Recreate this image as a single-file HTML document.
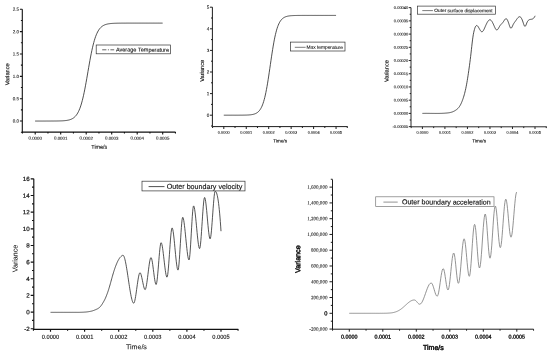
<!DOCTYPE html>
<html><head><meta charset="utf-8"><title>Variance charts</title>
<style>html,body{margin:0;padding:0;background:#fff}svg{display:block}</style>
</head><body>
<svg width="550" height="355" viewBox="0 0 550 355" font-family="'Liberation Sans', Arial, sans-serif">
<rect width="550" height="355" fill="#fff"/>
<g stroke="#111" stroke-width="1.1" fill="none">
<path d="M22.30 9.25V132.10H175.50"/>
<path d="M35.20 132.10v2.4M60.70 132.10v2.4M86.20 132.10v2.4M111.70 132.10v2.4M137.20 132.10v2.4M162.70 132.10v2.4M22.45 132.10v1.4M47.95 132.10v1.4M73.45 132.10v1.4M98.95 132.10v1.4M124.45 132.10v1.4M149.95 132.10v1.4M175.45 132.10v1.4M22.30 121.05h-2.4M22.30 98.69h-2.4M22.30 76.33h-2.4M22.30 53.97h-2.4M22.30 31.61h-2.4M22.30 9.25h-2.4M22.30 132.23h-1.4M22.30 109.87h-1.4M22.30 87.51h-1.4M22.30 65.15h-1.4M22.30 42.79h-1.4M22.30 20.43h-1.4"/>
</g>
<g font-size="4.4" text-anchor="middle" fill="#111" font-weight="normal" stroke="#111" stroke-width="0.08">
<text transform="translate(35.20 139.64) rotate(0.2)">0.0000</text>
<text transform="translate(60.70 139.64) rotate(0.2)">0.0001</text>
<text transform="translate(86.20 139.64) rotate(0.2)">0.0002</text>
<text transform="translate(111.70 139.64) rotate(0.2)">0.0003</text>
<text transform="translate(137.20 139.64) rotate(0.2)">0.0004</text>
<text transform="translate(162.70 139.64) rotate(0.2)">0.0005</text>
</g>
<g font-size="4.5" text-anchor="end" fill="#111" stroke="#111" stroke-width="0.08">
<text transform="translate(19.00 122.62) rotate(0.2)">0.0</text>
<text transform="translate(19.00 100.27) rotate(0.2)">0.5</text>
<text transform="translate(19.00 77.91) rotate(0.2)">1.0</text>
<text transform="translate(19.00 55.55) rotate(0.2)">1.5</text>
<text transform="translate(19.00 33.19) rotate(0.2)">2.0</text>
<text transform="translate(19.00 10.82) rotate(0.2)">2.5</text>
</g>
<text transform="translate(99.30 148.74) rotate(0.2)" font-size="5.4" text-anchor="middle" fill="#111" font-weight="normal" stroke="#111" stroke-width="0.12">Time/s</text>
<text transform="translate(9.21 74.30) rotate(-89.8)" font-size="5.7" text-anchor="middle" fill="#111" font-weight="normal" stroke="#111" stroke-width="0.12">Variance</text>
<path d="M35.10 121.05 L35.74 121.05 L36.38 121.05 L37.01 121.05 L37.65 121.05 L38.29 121.05 L38.93 121.05 L39.56 121.05 L40.20 121.05 L40.84 121.05 L41.48 121.05 L42.11 121.05 L42.75 121.05 L43.39 121.05 L44.02 121.05 L44.66 121.05 L45.30 121.05 L45.94 121.05 L46.58 121.04 L47.21 121.04 L47.85 121.04 L48.49 121.04 L49.12 121.04 L49.76 121.04 L50.40 121.04 L51.04 121.03 L51.67 121.03 L52.31 121.03 L52.95 121.03 L53.59 121.02 L54.23 121.02 L54.86 121.01 L55.50 121.01 L56.14 121.00 L56.78 120.99 L57.41 120.98 L58.05 120.97 L58.69 120.96 L59.33 120.94 L59.96 120.92 L60.60 120.90 L61.24 120.88 L61.88 120.85 L62.51 120.82 L63.15 120.78 L63.79 120.73 L64.42 120.68 L65.06 120.62 L65.70 120.55 L66.34 120.47 L66.97 120.37 L67.61 120.26 L68.25 120.14 L68.89 119.99 L69.53 119.82 L70.16 119.62 L70.80 119.39 L71.44 119.12 L72.08 118.82 L72.71 118.46 L73.35 118.05 L73.99 117.58 L74.62 117.03 L75.26 116.41 L75.90 115.69 L76.54 114.87 L77.17 113.93 L77.81 112.86 L78.45 111.65 L79.09 110.28 L79.72 108.74 L80.36 107.01 L81.00 105.09 L81.64 102.96 L82.28 100.62 L82.91 98.06 L83.55 95.29 L84.19 92.31 L84.83 89.14 L85.46 85.80 L86.10 82.32 L86.74 78.72 L87.38 75.05 L88.01 71.34 L88.65 67.64 L89.29 63.99 L89.92 60.44 L90.56 57.01 L91.20 53.73 L91.84 50.64 L92.47 47.74 L93.11 45.05 L93.75 42.58 L94.39 40.32 L95.03 38.28 L95.66 36.44 L96.30 34.79 L96.94 33.32 L97.58 32.01 L98.21 30.86 L98.85 29.85 L99.49 28.96 L100.12 28.18 L100.76 27.50 L101.40 26.90 L102.04 26.39 L102.68 25.94 L103.31 25.55 L103.95 25.22 L104.59 24.93 L105.22 24.68 L105.86 24.46 L106.50 24.27 L107.14 24.11 L107.78 23.97 L108.41 23.85 L109.05 23.75 L109.69 23.66 L110.33 23.58 L110.96 23.52 L111.60 23.46 L112.24 23.41 L112.88 23.37 L113.51 23.33 L114.15 23.30 L114.79 23.28 L115.43 23.25 L116.06 23.23 L116.70 23.22 L117.34 23.20 L117.97 23.19 L118.61 23.18 L119.25 23.17 L119.89 23.16 L120.53 23.16 L121.16 23.15 L121.80 23.14 L122.44 23.14 L123.08 23.14 L123.71 23.13 L124.35 23.13 L124.99 23.13 L125.62 23.13 L126.26 23.12 L126.90 23.12 L127.54 23.12 L128.18 23.12 L128.81 23.12 L129.45 23.12 L130.09 23.12 L130.72 23.12 L131.36 23.12 L132.00 23.12 L132.64 23.12 L133.28 23.12 L133.91 23.11 L134.55 23.11 L135.19 23.11 L135.83 23.11 L136.46 23.11 L137.10 23.11 L137.74 23.11 L138.38 23.11 L139.01 23.11 L139.65 23.11 L140.29 23.11 L140.93 23.11 L141.56 23.11 L142.20 23.11 L142.84 23.11 L143.47 23.11 L144.11 23.11 L144.75 23.11 L145.39 23.11 L146.03 23.11 L146.66 23.11 L147.30 23.11 L147.94 23.11 L148.58 23.11 L149.21 23.11 L149.85 23.11 L150.49 23.11 L151.12 23.11 L151.76 23.11 L152.40 23.11 L153.04 23.11 L153.68 23.11 L154.31 23.11 L154.95 23.11 L155.59 23.11 L156.22 23.11 L156.86 23.11 L157.50 23.11 L158.14 23.11 L158.78 23.11 L159.41 23.11 L160.05 23.11 L160.69 23.11 L161.33 23.11 L161.96 23.11 L162.60 23.11" fill="none" stroke="#222" stroke-width="0.8" stroke-linejoin="round"/>
<rect x="96.20" y="45.00" width="74.40" height="8.80" fill="#fff" stroke="#333" stroke-width="0.7"/>
<path d="M102.20 49.80H114.20" stroke="#222" stroke-width="0.7" stroke-dasharray="4.2 1.5 1 1.5"/>
<text transform="translate(115.90 51.52) rotate(0.2)" font-size="5.55" fill="#111" stroke="#111" stroke-width="0.1">Average Temperature</text>
<g stroke="#111" stroke-width="0.95" fill="none">
<path d="M212.40 7.20V126.60H347.70"/>
<path d="M223.80 126.60v2.4M246.25 126.60v2.4M268.70 126.60v2.4M291.15 126.60v2.4M313.60 126.60v2.4M336.05 126.60v2.4M212.58 126.60v1.4M235.03 126.60v1.4M257.48 126.60v1.4M279.93 126.60v1.4M302.38 126.60v1.4M324.82 126.60v1.4M347.27 126.60v1.4M212.40 115.20h-2.4M212.40 93.60h-2.4M212.40 72.00h-2.4M212.40 50.40h-2.4M212.40 28.80h-2.4M212.40 7.20h-2.4M212.40 126.00h-1.4M212.40 104.40h-1.4M212.40 82.80h-1.4M212.40 61.20h-1.4M212.40 39.60h-1.4M212.40 18.00h-1.4"/>
</g>
<g font-size="3.9" text-anchor="middle" fill="#111" font-weight="normal" stroke="#111" stroke-width="0.08">
<text transform="translate(223.80 133.77) rotate(0.2)">0.0000</text>
<text transform="translate(246.25 133.77) rotate(0.2)">0.0001</text>
<text transform="translate(268.70 133.77) rotate(0.2)">0.0002</text>
<text transform="translate(291.15 133.77) rotate(0.2)">0.0003</text>
<text transform="translate(313.60 133.77) rotate(0.2)">0.0004</text>
<text transform="translate(336.05 133.77) rotate(0.2)">0.0005</text>
</g>
<g font-size="4.6" text-anchor="end" fill="#111" stroke="#111" stroke-width="0.08">
<text transform="translate(209.30 116.81) rotate(0.2)">0</text>
<text transform="translate(209.30 95.21) rotate(0.2)">1</text>
<text transform="translate(209.30 73.61) rotate(0.2)">2</text>
<text transform="translate(209.30 52.01) rotate(0.2)">3</text>
<text transform="translate(209.30 30.41) rotate(0.2)">4</text>
<text transform="translate(209.30 8.81) rotate(0.2)">5</text>
</g>
<text transform="translate(280.00 142.43) rotate(0.2)" font-size="4.8" text-anchor="middle" fill="#111" font-weight="normal" stroke="#111" stroke-width="0.12">Time/s</text>
<text transform="translate(204.01 70.80) rotate(-89.8)" font-size="5.7" text-anchor="middle" fill="#111" font-weight="normal" stroke="#111" stroke-width="0.12">Variance</text>
<path d="M223.80 115.20 L224.36 115.20 L224.92 115.20 L225.48 115.20 L226.05 115.20 L226.61 115.20 L227.17 115.20 L227.73 115.20 L228.29 115.20 L228.85 115.20 L229.41 115.20 L229.97 115.20 L230.54 115.20 L231.10 115.20 L231.66 115.20 L232.22 115.20 L232.78 115.20 L233.34 115.20 L233.90 115.20 L234.46 115.20 L235.03 115.19 L235.59 115.19 L236.15 115.19 L236.71 115.19 L237.27 115.19 L237.83 115.19 L238.39 115.19 L238.95 115.18 L239.52 115.18 L240.08 115.18 L240.64 115.17 L241.20 115.17 L241.76 115.16 L242.32 115.16 L242.88 115.15 L243.44 115.14 L244.00 115.13 L244.57 115.12 L245.13 115.11 L245.69 115.09 L246.25 115.08 L246.81 115.05 L247.37 115.03 L247.93 115.00 L248.50 114.97 L249.06 114.93 L249.62 114.88 L250.18 114.83 L250.74 114.77 L251.30 114.70 L251.86 114.61 L252.42 114.51 L252.99 114.40 L253.55 114.26 L254.11 114.10 L254.67 113.92 L255.23 113.71 L255.79 113.46 L256.35 113.17 L256.91 112.84 L257.48 112.45 L258.04 112.00 L258.60 111.48 L259.16 110.87 L259.72 110.18 L260.28 109.38 L260.84 108.46 L261.40 107.41 L261.97 106.21 L262.53 104.85 L263.09 103.30 L263.65 101.57 L264.21 99.62 L264.77 97.46 L265.33 95.06 L265.89 92.43 L266.45 89.57 L267.02 86.48 L267.58 83.18 L268.14 79.70 L268.70 76.05 L269.26 72.27 L269.82 68.42 L270.38 64.52 L270.94 60.64 L271.51 56.81 L272.07 53.08 L272.63 49.50 L273.19 46.08 L273.75 42.86 L274.31 39.87 L274.87 37.10 L275.44 34.56 L276.00 32.26 L276.56 30.18 L277.12 28.32 L277.68 26.66 L278.24 25.20 L278.80 23.90 L279.36 22.76 L279.93 21.77 L280.49 20.90 L281.05 20.14 L281.61 19.48 L282.17 18.92 L282.73 18.42 L283.29 18.00 L283.85 17.63 L284.42 17.32 L284.98 17.04 L285.54 16.81 L286.10 16.61 L286.66 16.44 L287.22 16.29 L287.78 16.16 L288.34 16.06 L288.90 15.96 L289.47 15.88 L290.03 15.81 L290.59 15.76 L291.15 15.71 L291.71 15.66 L292.27 15.63 L292.83 15.59 L293.39 15.57 L293.96 15.54 L294.52 15.52 L295.08 15.51 L295.64 15.49 L296.20 15.48 L296.76 15.47 L297.32 15.46 L297.88 15.45 L298.45 15.45 L299.01 15.44 L299.57 15.44 L300.13 15.43 L300.69 15.43 L301.25 15.43 L301.81 15.42 L302.38 15.42 L302.94 15.42 L303.50 15.42 L304.06 15.42 L304.62 15.42 L305.18 15.41 L305.74 15.41 L306.30 15.41 L306.87 15.41 L307.43 15.41 L307.99 15.41 L308.55 15.41 L309.11 15.41 L309.67 15.41 L310.23 15.41 L310.79 15.41 L311.36 15.41 L311.92 15.41 L312.48 15.41 L313.04 15.41 L313.60 15.41 L314.16 15.41 L314.72 15.41 L315.28 15.41 L315.85 15.41 L316.41 15.41 L316.97 15.41 L317.53 15.41 L318.09 15.41 L318.65 15.41 L319.21 15.41 L319.77 15.41 L320.34 15.41 L320.90 15.41 L321.46 15.41 L322.02 15.41 L322.58 15.41 L323.14 15.41 L323.70 15.41 L324.26 15.41 L324.82 15.41 L325.39 15.41 L325.95 15.41 L326.51 15.41 L327.07 15.41 L327.63 15.41 L328.19 15.41 L328.75 15.41 L329.31 15.41 L329.88 15.41 L330.44 15.41 L331.00 15.41 L331.56 15.41 L332.12 15.41 L332.68 15.41 L333.24 15.41 L333.81 15.41 L334.37 15.41 L334.93 15.41 L335.49 15.41 L336.05 15.41" fill="none" stroke="#222" stroke-width="0.8" stroke-linejoin="round"/>
<rect x="290.60" y="42.10" width="54.40" height="8.90" fill="#fff" stroke="#333" stroke-width="0.7"/>
<path d="M294.80 47.30H305.60" stroke="#222" stroke-width="0.6"/>
<text transform="translate(306.60 48.79) rotate(0.2)" font-size="4.8" fill="#111" stroke="#111" stroke-width="0.1">Max temperature</text>
<g stroke="#111" stroke-width="0.9" fill="none">
<path d="M411.00 7.60V126.80H546.80"/>
<path d="M422.40 126.80v2.2M444.92 126.80v2.2M467.44 126.80v2.2M489.96 126.80v2.2M512.48 126.80v2.2M535.00 126.80v2.2M411.14 126.80v1.3M433.66 126.80v1.3M456.18 126.80v1.3M478.70 126.80v1.3M501.22 126.80v1.3M523.74 126.80v1.3M546.26 126.80v1.3M411.00 126.62h-2.2M411.00 113.40h-2.2M411.00 100.18h-2.2M411.00 86.96h-2.2M411.00 73.74h-2.2M411.00 60.52h-2.2M411.00 47.30h-2.2M411.00 34.08h-2.2M411.00 20.86h-2.2M411.00 7.64h-2.2M411.00 120.01h-1.3M411.00 106.79h-1.3M411.00 93.57h-1.3M411.00 80.35h-1.3M411.00 67.13h-1.3M411.00 53.91h-1.3M411.00 40.69h-1.3M411.00 27.47h-1.3M411.00 14.25h-1.3"/>
</g>
<g font-size="3.9" text-anchor="middle" fill="#111" font-weight="normal" stroke="#111" stroke-width="0.08">
<text transform="translate(422.40 133.67) rotate(0.2)">0.0000</text>
<text transform="translate(444.92 133.67) rotate(0.2)">0.0001</text>
<text transform="translate(467.44 133.67) rotate(0.2)">0.0002</text>
<text transform="translate(489.96 133.67) rotate(0.2)">0.0003</text>
<text transform="translate(512.48 133.67) rotate(0.2)">0.0004</text>
<text transform="translate(535.00 133.67) rotate(0.2)">0.0005</text>
</g>
<g font-size="4.0" text-anchor="end" fill="#111" stroke="#111" stroke-width="0.08">
<text transform="translate(408.30 128.02) rotate(0.2)">-0.00005</text>
<text transform="translate(408.30 114.80) rotate(0.2)">0.00000</text>
<text transform="translate(408.30 101.58) rotate(0.2)">0.00005</text>
<text transform="translate(408.30 88.36) rotate(0.2)">0.00010</text>
<text transform="translate(408.30 75.14) rotate(0.2)">0.00015</text>
<text transform="translate(408.30 61.92) rotate(0.2)">0.00020</text>
<text transform="translate(408.30 48.70) rotate(0.2)">0.00025</text>
<text transform="translate(408.30 35.48) rotate(0.2)">0.00030</text>
<text transform="translate(408.30 22.26) rotate(0.2)">0.00035</text>
<text transform="translate(408.30 9.04) rotate(0.2)">0.00040</text>
</g>
<text transform="translate(479.00 142.43) rotate(0.2)" font-size="4.8" text-anchor="middle" fill="#111" font-weight="normal" stroke="#111" stroke-width="0.12">Time/s</text>
<text transform="translate(388.51 71.10) rotate(-89.8)" font-size="5.7" text-anchor="middle" fill="#111" font-weight="normal" stroke="#111" stroke-width="0.12">Variance</text>
<path d="M422.40 113.40 L422.78 113.39 L423.15 113.38 L423.53 113.38 L423.91 113.37 L424.28 113.36 L424.66 113.36 L425.04 113.36 L425.42 113.36 L425.79 113.35 L426.17 113.35 L426.55 113.35 L426.92 113.35 L427.30 113.35 L427.68 113.36 L428.05 113.36 L428.43 113.36 L428.81 113.36 L429.18 113.37 L429.56 113.37 L429.94 113.38 L430.32 113.38 L430.69 113.38 L431.07 113.39 L431.45 113.39 L431.82 113.40 L432.20 113.40 L432.58 113.41 L432.95 113.41 L433.33 113.41 L433.71 113.42 L434.08 113.42 L434.46 113.43 L434.84 113.43 L435.22 113.43 L435.59 113.43 L435.97 113.43 L436.35 113.43 L436.72 113.43 L437.10 113.43 L437.48 113.43 L437.85 113.43 L438.23 113.43 L438.61 113.42 L438.98 113.42 L439.36 113.41 L439.74 113.41 L440.12 113.40 L440.49 113.39 L440.87 113.38 L441.25 113.37 L441.62 113.35 L442.00 113.34 L442.38 113.32 L442.75 113.31 L443.13 113.29 L443.51 113.27 L443.88 113.25 L444.26 113.22 L444.64 113.20 L445.02 113.17 L445.39 113.14 L445.77 113.11 L446.15 113.08 L446.52 113.05 L446.90 113.01 L447.28 112.97 L447.65 112.93 L448.03 112.89 L448.41 112.84 L448.78 112.79 L449.16 112.73 L449.54 112.66 L449.92 112.59 L450.29 112.51 L450.67 112.43 L451.05 112.33 L451.42 112.22 L451.80 112.11 L452.18 111.98 L452.55 111.84 L452.93 111.69 L453.31 111.53 L453.68 111.35 L454.06 111.16 L454.44 110.96 L454.82 110.75 L455.19 110.52 L455.57 110.29 L455.95 110.04 L456.32 109.77 L456.70 109.49 L457.08 109.19 L457.45 108.87 L457.83 108.51 L458.21 108.12 L458.58 107.70 L458.96 107.22 L459.34 106.70 L459.72 106.13 L460.09 105.51 L460.47 104.83 L460.85 104.09 L461.22 103.31 L461.60 102.46 L461.98 101.55 L462.35 100.59 L462.73 99.56 L463.11 98.48 L463.48 97.32 L463.86 96.10 L464.24 94.80 L464.62 93.42 L464.99 91.93 L465.37 90.34 L465.75 88.63 L466.12 86.80 L466.50 84.84 L466.88 82.75 L467.25 80.54 L467.63 78.21 L468.01 75.78 L468.38 73.27 L468.76 70.67 L469.14 68.00 L469.52 65.24 L469.89 62.39 L470.27 59.43 L470.65 56.33 L471.02 53.10 L471.40 49.73 L471.78 46.33 L472.15 43.02 L472.53 39.92 L472.91 37.15 L473.28 34.76 L473.66 32.73 L474.04 31.00 L474.42 29.55 L474.79 28.32 L475.17 27.31 L475.55 26.53 L475.92 25.97 L476.30 25.62 L476.68 25.49 L477.05 25.57 L477.43 25.83 L477.81 26.23 L478.18 26.76 L478.56 27.36 L478.94 28.03 L479.32 28.71 L479.69 29.39 L480.07 30.03 L480.45 30.62 L480.82 31.11 L481.20 31.49 L481.58 31.73 L481.95 31.80 L482.33 31.69 L482.71 31.39 L483.08 30.94 L483.46 30.36 L483.84 29.68 L484.22 28.91 L484.59 28.09 L484.97 27.23 L485.35 26.35 L485.72 25.49 L486.10 24.66 L486.48 23.87 L486.85 23.11 L487.23 22.42 L487.61 21.78 L487.98 21.22 L488.36 20.73 L488.74 20.34 L489.12 20.04 L489.49 19.84 L489.87 19.77 L490.25 19.81 L490.62 19.99 L491.00 20.28 L491.38 20.68 L491.75 21.18 L492.13 21.77 L492.51 22.44 L492.88 23.18 L493.26 23.97 L493.64 24.81 L494.02 25.69 L494.39 26.56 L494.77 27.39 L495.15 28.16 L495.52 28.84 L495.90 29.39 L496.28 29.78 L496.65 29.98 L497.03 29.96 L497.41 29.73 L497.78 29.34 L498.16 28.81 L498.54 28.20 L498.92 27.53 L499.29 26.85 L499.67 26.21 L500.05 25.63 L500.42 25.13 L500.80 24.68 L501.18 24.26 L501.55 23.88 L501.93 23.49 L502.31 23.09 L502.68 22.66 L503.06 22.19 L503.44 21.65 L503.82 21.07 L504.19 20.48 L504.57 19.91 L504.95 19.41 L505.32 19.01 L505.70 18.75 L506.08 18.66 L506.45 18.78 L506.83 19.12 L507.21 19.66 L507.58 20.38 L507.96 21.25 L508.34 22.24 L508.72 23.35 L509.09 24.51 L509.47 25.65 L509.85 26.67 L510.22 27.50 L510.60 28.05 L510.98 28.24 L511.35 28.05 L511.73 27.57 L512.11 26.88 L512.48 26.08 L512.86 25.23 L513.24 24.42 L513.62 23.72 L513.99 23.11 L514.37 22.57 L514.75 22.06 L515.12 21.57 L515.50 21.06 L515.88 20.53 L516.25 19.98 L516.63 19.44 L517.01 18.90 L517.38 18.39 L517.76 17.93 L518.14 17.51 L518.52 17.17 L518.89 16.91 L519.27 16.75 L519.65 16.69 L520.02 16.76 L520.40 16.97 L520.78 17.32 L521.15 17.82 L521.53 18.45 L521.91 19.21 L522.28 20.10 L522.66 21.10 L523.04 22.22 L523.42 23.38 L523.79 24.48 L524.17 25.42 L524.55 26.09 L524.92 26.39 L525.30 26.24 L525.68 25.70 L526.05 24.88 L526.43 23.93 L526.81 22.96 L527.18 22.10 L527.56 21.40 L527.94 20.84 L528.32 20.41 L528.69 20.08 L529.07 19.83 L529.45 19.65 L529.82 19.52 L530.20 19.44 L530.58 19.38 L530.95 19.33 L531.33 19.28 L531.71 19.22 L532.08 19.13 L532.46 19.00 L532.84 18.81 L533.22 18.56 L533.59 18.23 L533.97 17.80 L534.35 17.26 L534.72 16.60 L535.10 15.80" fill="none" stroke="#222" stroke-width="0.8" stroke-linejoin="round"/>
<rect x="417.40" y="6.10" width="78.10" height="8.10" fill="#fff" stroke="#333" stroke-width="0.7"/>
<path d="M422.30 10.60H432.90" stroke="#222" stroke-width="0.6"/>
<text transform="translate(434.30 12.08) rotate(0.2)" font-size="4.78" fill="#111" stroke="#111" stroke-width="0.1">Outer surface displacement</text>
<g stroke="#111" stroke-width="1.15" fill="none">
<path d="M33.80 178.70V329.30H238.30"/>
<path d="M50.50 329.30v2.5M84.60 329.30v2.5M118.70 329.30v2.5M152.80 329.30v2.5M186.90 329.30v2.5M221.00 329.30v2.5M33.45 329.30v1.5M67.55 329.30v1.5M101.65 329.30v1.5M135.75 329.30v1.5M169.85 329.30v1.5M203.95 329.30v1.5M238.05 329.30v1.5M33.80 328.76h-3.1M33.80 312.10h-3.1M33.80 295.44h-3.1M33.80 278.78h-3.1M33.80 262.12h-3.1M33.80 245.46h-3.1M33.80 228.80h-3.1M33.80 212.14h-3.1M33.80 195.48h-3.1M33.80 178.82h-3.1M33.80 320.43h-1.8M33.80 303.77h-1.8M33.80 287.11h-1.8M33.80 270.45h-1.8M33.80 253.79h-1.8M33.80 237.13h-1.8M33.80 220.47h-1.8M33.80 203.81h-1.8M33.80 187.15h-1.8"/>
</g>
<g font-size="5.7" text-anchor="middle" fill="#111" font-weight="normal" stroke="#111" stroke-width="0.12">
<text transform="translate(50.50 338.80) rotate(0.2)">0.0000</text>
<text transform="translate(84.60 338.80) rotate(0.2)">0.0001</text>
<text transform="translate(118.70 338.80) rotate(0.2)">0.0002</text>
<text transform="translate(152.80 338.80) rotate(0.2)">0.0003</text>
<text transform="translate(186.90 338.80) rotate(0.2)">0.0004</text>
<text transform="translate(221.00 338.80) rotate(0.2)">0.0005</text>
</g>
<g font-size="6.2" text-anchor="end" fill="#111" stroke="#111" stroke-width="0.2">
<text transform="translate(29.70 330.93) rotate(0.2)">-2</text>
<text transform="translate(29.70 314.27) rotate(0.2)">0</text>
<text transform="translate(29.70 297.61) rotate(0.2)">2</text>
<text transform="translate(29.70 280.95) rotate(0.2)">4</text>
<text transform="translate(29.70 264.29) rotate(0.2)">6</text>
<text transform="translate(29.70 247.63) rotate(0.2)">8</text>
<text transform="translate(29.70 230.97) rotate(0.2)">10</text>
<text transform="translate(29.70 214.31) rotate(0.2)">12</text>
<text transform="translate(29.70 197.65) rotate(0.2)">14</text>
<text transform="translate(29.70 180.99) rotate(0.2)">16</text>
</g>
<text transform="translate(136.40 349.21) rotate(0.2)" font-size="7.1" text-anchor="middle" fill="#111" font-weight="normal" stroke="#111" stroke-width="0.05">Time/s</text>
<text transform="translate(17.43 258.50) rotate(-89.8)" font-size="7.1" text-anchor="middle" fill="#111" font-weight="normal" stroke="#111" stroke-width="0.05">Variance</text>
<path d="M50.57 312.35 L50.91 312.35 L51.25 312.35 L51.59 312.35 L51.94 312.35 L52.28 312.35 L52.62 312.35 L52.96 312.35 L53.30 312.35 L53.64 312.35 L53.99 312.35 L54.33 312.35 L54.67 312.35 L55.01 312.35 L55.35 312.35 L55.69 312.35 L56.03 312.35 L56.38 312.35 L56.72 312.35 L57.06 312.35 L57.40 312.35 L57.74 312.35 L58.08 312.35 L58.43 312.35 L58.77 312.35 L59.11 312.35 L59.45 312.35 L59.79 312.35 L60.13 312.35 L60.47 312.35 L60.82 312.35 L61.16 312.35 L61.50 312.35 L61.84 312.35 L62.18 312.35 L62.52 312.35 L62.87 312.35 L63.21 312.35 L63.55 312.35 L63.89 312.35 L64.23 312.35 L64.57 312.35 L64.91 312.35 L65.26 312.35 L65.60 312.35 L65.94 312.35 L66.28 312.35 L66.62 312.35 L66.96 312.35 L67.31 312.35 L67.65 312.35 L67.99 312.35 L68.33 312.35 L68.67 312.35 L69.01 312.35 L69.35 312.35 L69.70 312.35 L70.04 312.35 L70.38 312.35 L70.72 312.35 L71.06 312.35 L71.40 312.35 L71.75 312.35 L72.09 312.35 L72.43 312.35 L72.77 312.35 L73.11 312.35 L73.45 312.35 L73.79 312.35 L74.14 312.35 L74.48 312.35 L74.82 312.35 L75.16 312.35 L75.50 312.35 L75.84 312.35 L76.19 312.35 L76.53 312.35 L76.87 312.35 L77.21 312.35 L77.55 312.35 L77.89 312.35 L78.23 312.35 L78.58 312.35 L78.92 312.34 L79.26 312.34 L79.60 312.33 L79.94 312.33 L80.28 312.32 L80.63 312.31 L80.97 312.30 L81.31 312.28 L81.65 312.27 L81.99 312.26 L82.33 312.24 L82.68 312.23 L83.02 312.21 L83.36 312.19 L83.70 312.18 L84.04 312.16 L84.38 312.14 L84.72 312.12 L85.07 312.10 L85.41 312.07 L85.75 312.04 L86.09 312.01 L86.43 311.97 L86.77 311.93 L87.12 311.89 L87.46 311.84 L87.80 311.79 L88.14 311.74 L88.48 311.69 L88.82 311.64 L89.16 311.58 L89.51 311.52 L89.85 311.46 L90.19 311.40 L90.53 311.33 L90.87 311.26 L91.21 311.19 L91.56 311.11 L91.90 311.02 L92.24 310.92 L92.58 310.82 L92.92 310.71 L93.26 310.60 L93.60 310.48 L93.95 310.35 L94.29 310.22 L94.63 310.09 L94.97 309.95 L95.31 309.81 L95.65 309.67 L96.00 309.52 L96.34 309.37 L96.68 309.21 L97.02 309.05 L97.36 308.88 L97.70 308.69 L98.04 308.49 L98.39 308.28 L98.73 308.05 L99.07 307.80 L99.41 307.53 L99.75 307.22 L100.09 306.87 L100.44 306.49 L100.78 306.07 L101.12 305.63 L101.46 305.15 L101.80 304.66 L102.14 304.14 L102.48 303.59 L102.83 303.03 L103.17 302.46 L103.51 301.86 L103.85 301.26 L104.19 300.65 L104.53 300.02 L104.88 299.34 L105.22 298.61 L105.56 297.84 L105.90 297.04 L106.24 296.20 L106.58 295.33 L106.92 294.43 L107.27 293.52 L107.61 292.59 L107.95 291.62 L108.29 290.59 L108.63 289.51 L108.97 288.39 L109.32 287.25 L109.66 286.09 L110.00 284.92 L110.34 283.71 L110.68 282.46 L111.02 281.20 L111.36 279.95 L111.71 278.71 L112.05 277.51 L112.39 276.31 L112.73 275.12 L113.07 273.94 L113.41 272.79 L113.76 271.68 L114.10 270.61 L114.44 269.58 L114.78 268.58 L115.12 267.60 L115.46 266.66 L115.80 265.76 L116.15 264.90 L116.49 264.07 L116.83 263.25 L117.17 262.47 L117.51 261.73 L117.85 261.03 L118.20 260.38 L118.54 259.78 L118.88 259.19 L119.22 258.63 L119.56 258.12 L119.90 257.66 L120.24 257.27 L120.59 256.93 L120.93 256.59 L121.27 256.26 L121.61 255.96 L121.95 255.70 L122.29 255.49 L122.64 255.35 L122.98 255.30 L123.32 255.42 L123.66 255.82 L124.00 256.48 L124.34 257.38 L124.68 258.49 L125.03 259.80 L125.37 261.30 L125.71 262.96 L126.05 264.76 L126.39 266.69 L126.73 268.73 L127.08 270.85 L127.42 273.05 L127.76 275.30 L128.10 277.57 L128.44 279.87 L128.78 282.15 L129.12 284.42 L129.47 286.64 L129.81 288.80 L130.15 290.88 L130.49 292.86 L130.83 294.72 L131.17 296.45 L131.52 298.03 L131.86 299.43 L132.20 300.64 L132.54 301.63 L132.88 302.40 L133.22 302.92 L133.56 303.18 L133.91 303.10 L134.25 302.55 L134.59 301.55 L134.93 300.16 L135.27 298.45 L135.61 296.46 L135.96 294.27 L136.30 291.92 L136.64 289.48 L136.98 287.00 L137.32 284.55 L137.66 282.17 L138.01 279.94 L138.35 277.90 L138.69 276.12 L139.03 274.65 L139.37 273.55 L139.71 272.88 L140.05 272.71 L140.40 272.99 L140.74 273.66 L141.08 274.65 L141.42 275.90 L141.76 277.36 L142.10 278.95 L142.45 280.63 L142.79 282.32 L143.13 283.97 L143.47 285.52 L143.81 286.91 L144.15 288.07 L144.49 288.94 L144.84 289.47 L145.18 289.58 L145.52 289.14 L145.86 288.14 L146.20 286.66 L146.54 284.78 L146.89 282.56 L147.23 280.09 L147.57 277.45 L147.91 274.69 L148.25 271.91 L148.59 269.17 L148.93 266.55 L149.28 264.12 L149.62 261.96 L149.96 260.15 L150.30 258.75 L150.64 257.84 L150.98 257.50 L151.33 257.82 L151.67 258.76 L152.01 260.25 L152.35 262.17 L152.69 264.44 L153.03 266.95 L153.37 269.61 L153.72 272.32 L154.06 274.98 L154.40 277.49 L154.74 279.77 L155.08 281.70 L155.42 283.20 L155.77 284.17 L156.11 284.50 L156.45 283.92 L156.79 282.33 L157.13 279.90 L157.47 276.78 L157.81 273.13 L158.16 269.11 L158.50 264.88 L158.84 260.61 L159.18 256.45 L159.52 252.56 L159.86 249.10 L160.21 246.24 L160.55 244.12 L160.89 242.92 L161.23 242.75 L161.57 243.33 L161.91 244.48 L162.25 246.15 L162.60 248.23 L162.94 250.66 L163.28 253.34 L163.62 256.21 L163.96 259.18 L164.30 262.17 L164.65 265.10 L164.99 267.89 L165.33 270.46 L165.67 272.73 L166.01 274.62 L166.35 276.05 L166.69 276.93 L167.04 277.19 L167.38 276.43 L167.72 274.53 L168.06 271.69 L168.40 268.07 L168.74 263.85 L169.09 259.21 L169.43 254.33 L169.77 249.39 L170.11 244.56 L170.45 240.02 L170.79 235.95 L171.13 232.53 L171.48 229.93 L171.82 228.34 L172.16 227.91 L172.50 228.46 L172.84 229.74 L173.18 231.65 L173.53 234.10 L173.87 236.99 L174.21 240.22 L174.55 243.69 L174.89 247.30 L175.23 250.96 L175.57 254.57 L175.92 258.03 L176.26 261.23 L176.60 264.09 L176.94 266.51 L177.28 268.38 L177.62 269.61 L177.97 270.10 L178.31 269.45 L178.65 267.36 L178.99 264.06 L179.33 259.78 L179.67 254.79 L180.01 249.31 L180.36 243.59 L180.70 237.88 L181.04 232.42 L181.38 227.44 L181.72 223.20 L182.06 219.94 L182.41 217.90 L182.75 217.31 L183.09 217.77 L183.43 218.89 L183.77 220.59 L184.11 222.78 L184.45 225.39 L184.80 228.34 L185.14 231.53 L185.48 234.90 L185.82 238.36 L186.16 241.82 L186.50 245.20 L186.85 248.44 L187.19 251.43 L187.53 254.10 L187.87 256.37 L188.21 258.16 L188.55 259.39 L188.89 259.96 L189.24 259.59 L189.58 257.65 L189.92 254.38 L190.26 250.03 L190.60 244.87 L190.94 239.18 L191.29 233.20 L191.63 227.22 L191.97 221.48 L192.31 216.27 L192.65 211.85 L192.99 208.47 L193.34 206.42 L193.68 205.92 L194.02 206.49 L194.36 207.78 L194.70 209.69 L195.04 212.12 L195.38 214.98 L195.73 218.18 L196.07 221.62 L196.41 225.21 L196.75 228.85 L197.09 232.45 L197.43 235.92 L197.78 239.15 L198.12 242.06 L198.46 244.55 L198.80 246.52 L199.14 247.89 L199.48 248.55 L199.82 248.30 L200.17 246.78 L200.51 244.16 L200.85 240.63 L201.19 236.38 L201.53 231.61 L201.87 226.51 L202.22 221.29 L202.56 216.13 L202.90 211.23 L203.24 206.79 L203.58 203.00 L203.92 200.06 L204.26 198.16 L204.61 197.50 L204.95 197.97 L205.29 199.29 L205.63 201.32 L205.97 203.94 L206.31 207.05 L206.66 210.52 L207.00 214.23 L207.34 218.07 L207.68 221.91 L208.02 225.63 L208.36 229.12 L208.70 232.26 L209.05 234.92 L209.39 237.00 L209.73 238.36 L210.07 238.90 L210.41 238.39 L210.75 236.75 L211.10 234.16 L211.44 230.79 L211.78 226.80 L212.12 222.38 L212.46 217.69 L212.80 212.91 L213.14 208.20 L213.49 203.74 L213.83 199.70 L214.17 196.26 L214.51 193.58 L214.85 191.84 L215.19 191.20 L215.54 191.30 L215.88 191.62 L216.22 192.18 L216.56 192.97 L216.90 194.03 L217.24 195.35 L217.58 196.95 L217.93 198.85 L218.27 201.05 L218.61 203.57 L218.95 206.43 L219.29 209.63 L219.63 213.18 L219.98 217.10 L220.32 221.40 L220.66 226.10 L221.00 231.20" fill="none" stroke="#282828" stroke-width="0.8" stroke-linejoin="round"/>
<rect x="142.00" y="181.20" width="103.00" height="9.70" fill="#fff" stroke="#333" stroke-width="0.7"/>
<path d="M148.60 186.60H164.50" stroke="#222" stroke-width="0.8"/>
<text transform="translate(166.80 188.82) rotate(0.2)" font-size="7.15" fill="#111" stroke="#111" stroke-width="0.15">Outer boundary velocity</text>
<g stroke="#111" stroke-width="0.95" fill="none">
<path d="M332.50 179.50V329.20H533.60"/>
<path d="M349.30 329.20v2.5M382.80 329.20v2.5M416.30 329.20v2.5M449.80 329.20v2.5M483.30 329.20v2.5M516.80 329.20v2.5M332.55 329.20v1.5M366.05 329.20v1.5M399.55 329.20v1.5M433.05 329.20v1.5M466.55 329.20v1.5M500.05 329.20v1.5M533.55 329.20v1.5M332.50 329.07h-3.0M332.50 313.30h-3.0M332.50 297.53h-3.0M332.50 281.76h-3.0M332.50 265.99h-3.0M332.50 250.22h-3.0M332.50 234.45h-3.0M332.50 218.68h-3.0M332.50 202.91h-3.0M332.50 187.14h-3.0M332.50 321.19h-1.7M332.50 305.42h-1.7M332.50 289.65h-1.7M332.50 273.88h-1.7M332.50 258.11h-1.7M332.50 242.34h-1.7M332.50 226.57h-1.7M332.50 210.80h-1.7M332.50 195.03h-1.7M332.50 179.26h-1.7"/>
</g>
<g font-size="5.4" text-anchor="middle" fill="#111" font-weight="normal" stroke="#111" stroke-width="0.3">
<text transform="translate(349.30 338.49) rotate(0.2)">0.0000</text>
<text transform="translate(382.80 338.49) rotate(0.2)">0.0001</text>
<text transform="translate(416.30 338.49) rotate(0.2)">0.0002</text>
<text transform="translate(449.80 338.49) rotate(0.2)">0.0003</text>
<text transform="translate(483.30 338.49) rotate(0.2)">0.0004</text>
<text transform="translate(516.80 338.49) rotate(0.2)">0.0005</text>
</g>
<g font-size="5.1" text-anchor="end" fill="#111" font-family="'Liberation Serif', 'Times New Roman', serif" stroke="#111" stroke-width="0.06">
<text transform="translate(327.50 330.75) rotate(0.2)">-200,000</text>
<text transform="translate(327.50 315.30) rotate(0.2)" font-family="'Liberation Sans', Arial, sans-serif" font-size="5.7" stroke-width="0.3">0</text>
<text transform="translate(327.50 299.21) rotate(0.2)">200,000</text>
<text transform="translate(327.50 283.44) rotate(0.2)">400,000</text>
<text transform="translate(327.50 267.67) rotate(0.2)">600,000</text>
<text transform="translate(327.50 251.90) rotate(0.2)">800,000</text>
<text transform="translate(327.50 236.13) rotate(0.2)">1,000,000</text>
<text transform="translate(327.50 220.36) rotate(0.2)">1,200,000</text>
<text transform="translate(327.50 204.59) rotate(0.2)">1,400,000</text>
<text transform="translate(327.50 188.82) rotate(0.2)">1,600,000</text>
</g>
<text transform="translate(433.40 349.88) rotate(0.2)" font-size="7.0" text-anchor="middle" fill="#111" font-weight="normal" stroke="#111" stroke-width="0.45">Time/s</text>
<text transform="translate(300.26 259.20) rotate(-89.8)" font-size="7.2" text-anchor="middle" fill="#111" font-weight="normal" stroke="#111" stroke-width="0.45">Variance</text>
<path d="M349.30 313.30 L349.97 313.30 L350.64 313.30 L351.31 313.30 L351.98 313.30 L352.65 313.30 L353.32 313.30 L353.99 313.30 L354.66 313.30 L355.33 313.30 L356.00 313.30 L356.67 313.30 L357.34 313.30 L358.01 313.30 L358.68 313.30 L359.35 313.30 L360.02 313.30 L360.69 313.30 L361.36 313.30 L362.03 313.30 L362.70 313.30 L363.37 313.30 L364.04 313.30 L364.71 313.30 L365.38 313.30 L366.05 313.30 L366.72 313.30 L367.39 313.30 L368.06 313.30 L368.73 313.30 L369.40 313.30 L370.07 313.30 L370.74 313.30 L371.41 313.30 L372.08 313.30 L372.75 313.30 L373.42 313.30 L374.09 313.30 L374.76 313.30 L375.43 313.30 L376.10 313.30 L376.77 313.30 L377.44 313.30 L378.11 313.30 L378.78 313.30 L379.45 313.30 L380.12 313.29 L380.79 313.29 L381.46 313.29 L382.13 313.28 L382.80 313.28 L383.47 313.27 L384.14 313.26 L384.81 313.25 L385.48 313.24 L386.15 313.22 L386.82 313.20 L387.49 313.18 L388.16 313.14 L388.83 313.10 L389.50 313.06 L390.17 313.00 L390.84 312.93 L391.51 312.85 L392.18 312.75 L392.85 312.63 L393.52 312.50 L394.19 312.34 L394.86 312.16 L395.53 311.95 L396.20 311.72 L396.87 311.45 L397.54 311.15 L398.21 310.82 L398.88 310.46 L399.55 310.06 L400.22 309.63 L400.89 309.16 L401.56 308.66 L402.23 308.13 L402.90 307.57 L403.57 306.99 L404.24 306.39 L404.91 305.78 L405.58 305.17 L406.25 304.55 L406.92 303.94 L407.59 303.35 L408.26 302.78 L408.93 302.25 L409.60 301.75 L410.27 301.30 L410.94 300.91 L411.61 300.58 L412.28 300.32 L412.95 300.13 L413.62 300.01 L414.40 300.00 L414.84 300.07 L415.28 300.28 L415.72 300.62 L416.17 301.05 L416.61 301.56 L417.05 302.10 L417.49 302.64 L417.93 303.15 L418.38 303.58 L418.82 303.92 L419.26 304.13 L419.70 304.20 L420.66 303.84 L421.62 302.78 L422.57 301.10 L423.53 298.90 L424.49 296.34 L425.45 293.60 L426.41 290.86 L427.37 288.30 L428.32 286.10 L429.28 284.42 L430.24 283.36 L431.20 283.00 L431.70 283.22 L432.20 283.88 L432.70 284.93 L433.20 286.30 L433.70 287.89 L434.20 289.60 L434.70 291.31 L435.20 292.90 L435.70 294.27 L436.20 295.32 L436.70 295.98 L437.20 296.20 L437.70 295.73 L438.20 294.35 L438.70 292.16 L439.20 289.30 L439.70 285.97 L440.20 282.40 L440.70 278.83 L441.20 275.50 L441.70 272.64 L442.20 270.45 L442.70 269.07 L443.20 268.60 L443.60 268.96 L444.00 270.03 L444.40 271.73 L444.80 273.95 L445.20 276.53 L445.60 279.30 L446.00 282.07 L446.40 284.65 L446.80 286.87 L447.20 288.57 L447.60 289.64 L448.00 290.00 L448.48 289.37 L448.95 287.52 L449.43 284.58 L449.90 280.75 L450.38 276.29 L450.85 271.50 L451.32 266.71 L451.80 262.25 L452.27 258.42 L452.75 255.48 L453.22 253.63 L453.70 253.00 L454.09 253.52 L454.48 255.03 L454.88 257.44 L455.27 260.57 L455.66 264.23 L456.05 268.15 L456.44 272.07 L456.83 275.73 L457.22 278.86 L457.62 281.27 L458.01 282.78 L458.40 283.30 L458.88 282.54 L459.35 280.32 L459.82 276.78 L460.30 272.18 L460.77 266.81 L461.25 261.05 L461.73 255.29 L462.20 249.93 L462.68 245.32 L463.15 241.78 L463.62 239.56 L464.10 238.80 L464.53 239.44 L464.97 241.31 L465.40 244.29 L465.83 248.18 L466.27 252.70 L466.70 257.55 L467.13 262.40 L467.57 266.93 L468.00 270.81 L468.43 273.79 L468.87 275.66 L469.30 276.30 L469.74 275.42 L470.18 272.82 L470.62 268.70 L471.07 263.32 L471.51 257.07 L471.95 250.35 L472.39 243.63 L472.83 237.38 L473.28 232.00 L473.72 227.88 L474.16 225.28 L474.60 224.40 L475.01 225.14 L475.42 227.32 L475.83 230.79 L476.23 235.30 L476.64 240.56 L477.05 246.20 L477.46 251.84 L477.87 257.10 L478.27 261.61 L478.68 265.08 L479.09 267.26 L479.50 268.00 L479.98 267.08 L480.45 264.38 L480.93 260.09 L481.40 254.50 L481.88 247.99 L482.35 241.00 L482.82 234.01 L483.30 227.50 L483.77 221.91 L484.25 217.62 L484.72 214.92 L485.20 214.00 L485.60 214.75 L486.00 216.96 L486.40 220.47 L486.80 225.05 L487.20 230.38 L487.60 236.10 L488.00 241.82 L488.40 247.15 L488.80 251.73 L489.20 255.24 L489.60 257.45 L490.00 258.20 L490.44 257.31 L490.88 254.70 L491.32 250.56 L491.77 245.15 L492.21 238.86 L492.65 232.10 L493.09 225.34 L493.53 219.05 L493.98 213.64 L494.42 209.50 L494.86 206.89 L495.30 206.00 L495.72 206.71 L496.13 208.79 L496.55 212.09 L496.97 216.40 L497.38 221.42 L497.80 226.80 L498.22 232.18 L498.63 237.20 L499.05 241.51 L499.47 244.81 L499.88 246.89 L500.30 247.60 L500.76 246.78 L501.22 244.36 L501.68 240.51 L502.13 235.50 L502.59 229.66 L503.05 223.40 L503.51 217.14 L503.97 211.30 L504.43 206.29 L504.88 202.44 L505.34 200.02 L505.80 199.20 L506.23 199.85 L506.67 201.75 L507.10 204.76 L507.53 208.70 L507.97 213.28 L508.40 218.20 L508.83 223.12 L509.27 227.70 L509.70 231.64 L510.13 234.65 L510.57 236.55 L511.00 237.20 L511.48 236.43 L511.97 234.17 L512.45 230.58 L512.93 225.90 L513.42 220.45 L513.90 214.60 L514.38 208.75 L514.87 203.30 L515.35 198.62 L515.83 195.03 L516.32 192.77 L516.80 192.00" fill="none" stroke="#777" stroke-width="0.8" stroke-linejoin="round"/>
<rect x="375.70" y="196.80" width="118.30" height="9.80" fill="#fff" stroke="#777" stroke-width="0.7"/>
<path d="M383.40 202.10H397.70" stroke="#777" stroke-width="0.8"/>
<text transform="translate(402.00 204.28) rotate(0.2)" font-size="7.03" fill="#111" stroke="#111" stroke-width="0.15">Outer boundary acceleration</text>
</svg>
</body></html>
